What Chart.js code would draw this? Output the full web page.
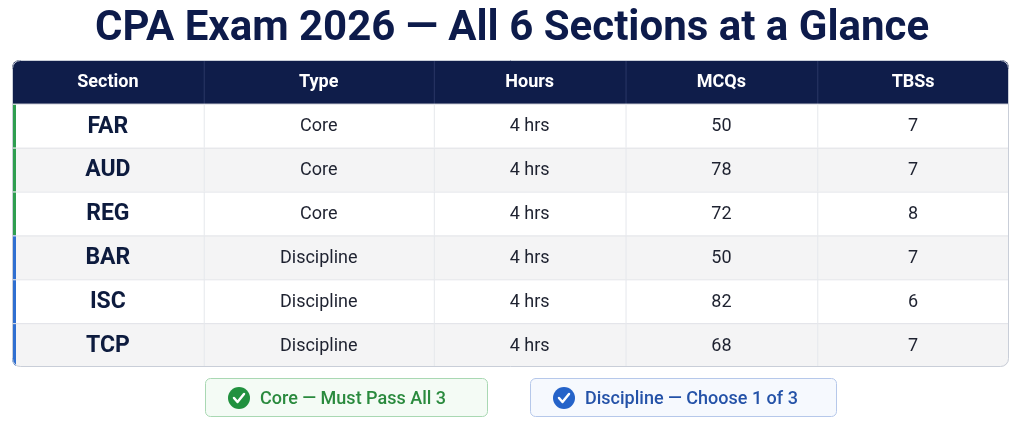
<!DOCTYPE html>
<html><head><meta charset="utf-8">
<script src="https://cdn.jsdelivr.net/npm/chart.js@4"></script>
<style>html,body{margin:0;padding:0;background:#fff}#wrap{width:1024px;height:424px}</style>
</head><body><div id="wrap"><canvas id="c" width="1024" height="424"></canvas></div>
<script>
const title = "CPA Exam 2026 — All 6 Sections at a Glance";
const columns = ["Section", "Type", "Hours", "MCQs", "TBSs"];
const sections = ["FAR", "AUD", "REG", "BAR", "ISC", "TCP"];
const types = ["Core", "Core", "Core", "Discipline", "Discipline", "Discipline"];
const hours = [4, 4, 4, 4, 4, 4];
const mcqs = [50, 78, 72, 50, 82, 68];
const tbss = [7, 7, 8, 7, 6, 7];
const legendLabels = ["Core — Must Pass All 3", "Discipline — Choose 1 of 3"];

const colWeights = [1, 1.2, 1, 1, 1];
const colEdges = [0]; colWeights.forEach(w => colEdges.push(colEdges[colEdges.length-1] + w));
const rowLabels = ["header"].concat(sections);
const FONT = "Roboto, 'Noto Sans', sans-serif";

function rr(ctx,x,y,w,h,r){ctx.beginPath();ctx.moveTo(x+r,y);ctx.arcTo(x+w,y,x+w,y+h,r);ctx.arcTo(x+w,y+h,x,y+h,r);ctx.arcTo(x,y+h,x,y,r);ctx.arcTo(x,y,x+w,y,r);ctx.closePath();}

const tablePlugin = {
  id: 'table',
  afterDraw(chart) {
    const ctx = chart.ctx, xs = chart.scales.x, ys = chart.scales.y;
    const L = xs.getPixelForValue(0), R = xs.getPixelForValue(colEdges[colEdges.length-1]);
    const half = (ys.getPixelForValue(1) - ys.getPixelForValue(0)) / 2;
    const top = ys.getPixelForValue(0) - half, bot = ys.getPixelForValue(rowLabels.length-1) + half;
    ctx.save();
    ctx.fillStyle = "#0d1b4b"; ctx.font = "bold 42px " + FONT; ctx.textAlign = "center"; ctx.textBaseline = "middle";
    ctx.fillText(title, 512, 29);
    rr(ctx, L, top, R-L, bot-top, 8); ctx.save(); ctx.clip();
    for (let r = 0; r < rowLabels.length; r++) {
      const cy = ys.getPixelForValue(r), y0 = cy - half;
      ctx.fillStyle = r === 0 ? "#0f1d4a" : (r % 2 === 1 ? "#ffffff" : "#f4f4f5");
      ctx.fillRect(L, y0, R-L, half*2);
      if (r > 0) {
        ctx.fillStyle = types[r-1] === "Core" ? "#2e9e4f" : "#2f6fd1";
        ctx.fillRect(L, y0, 4, half*2);
        ctx.fillStyle = "#e2e4e8"; ctx.fillRect(L, y0, R-L, 1);
      }
      for (let c = 0; c < columns.length; c++) {
        const cx = xs.getPixelForValue((colEdges[c] + colEdges[c+1]) / 2);
        if (c > 0) { ctx.fillStyle = r === 0 ? "#2a3766" : "#e6e8ec"; ctx.fillRect(xs.getPixelForValue(colEdges[c]), y0, 1, half*2); }
        let txt, font, col = "#1e2230";
        if (r === 0) { txt = columns[c]; font = "bold 18px " + FONT; col = "#ffffff"; }
        else {
          const i = r-1;
          txt = [sections[i], types[i], hours[i] + " hrs", String(mcqs[i]), String(tbss[i])][c];
          font = c === 0 ? "bold 23px " + FONT : "18px " + FONT;
          if (c === 0) col = "#0d1b3e";
        }
        ctx.font = font; ctx.fillStyle = col; ctx.fillText(txt, cx, cy + 1);
      }
    }
    ctx.restore();
    rr(ctx, L+0.5, top+0.5, R-L-1, bot-top-1, 8); ctx.strokeStyle = "#c9ced8"; ctx.lineWidth = 1; ctx.stroke();
    const boxes = [
      {x:205,w:282,bg:"#f4fbf5",bd:"#a9d8b3",fg:"#2a8a3e",ic:"#21913f"},
      {x:530,w:306,bg:"#f6f9fe",bd:"#b6c8ea",fg:"#2452a8",ic:"#2563c9"}];
    boxes.forEach((b, i) => {
      rr(ctx, b.x+0.5, 378.5, b.w, 38, 5); ctx.fillStyle = b.bg; ctx.fill(); ctx.strokeStyle = b.bd; ctx.stroke();
      const ix = b.x + 34, iy = 398;
      ctx.beginPath(); ctx.arc(ix, iy, 11, 0, Math.PI*2); ctx.fillStyle = b.ic; ctx.fill();
      ctx.beginPath(); ctx.moveTo(ix-5, iy); ctx.lineTo(ix-1.5, iy+4); ctx.lineTo(ix+5, iy-4);
      ctx.strokeStyle = "#fff"; ctx.lineWidth = 2.5; ctx.lineCap = "round"; ctx.lineJoin = "round"; ctx.stroke(); ctx.lineWidth = 1;
      ctx.font = "500 18px " + FONT; ctx.fillStyle = b.fg; ctx.textAlign = "left";
      ctx.fillText(legendLabels[i], ix + 21, iy + 1);
    });
    ctx.restore();
  }
};

new Chart(document.getElementById('c'), {
  type: 'bar',
  data: { labels: rowLabels, datasets: [{ data: [] }] },
  options: {
    responsive: false, animation: false, indexAxis: 'y',
    layout: { padding: { left: 12, right: 15, top: 60, bottom: 57 } },
    plugins: { legend: { display: false }, title: { display: false }, tooltip: { enabled: false } },
    scales: {
      x: { type: 'linear', min: 0, max: colEdges[colEdges.length-1], display: false },
      y: { type: 'category', labels: rowLabels, offset: true, display: false }
    }
  },
  plugins: [tablePlugin]
});
</script></body></html>
